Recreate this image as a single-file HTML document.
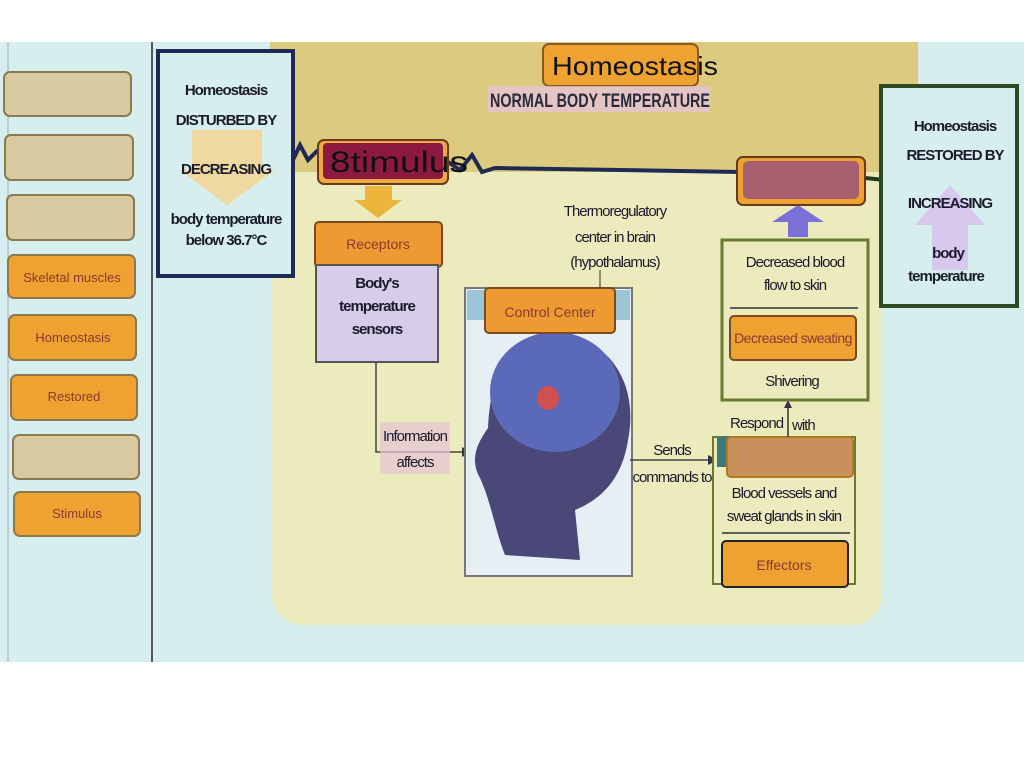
<!DOCTYPE html>
<html><head><meta charset="utf-8"><style>
body{margin:0;background:#fff}
svg text{font-family:"Liberation Sans",sans-serif}
</style></head><body>
<svg width="1024" height="768" viewBox="0 0 1024 768" xmlns="http://www.w3.org/2000/svg">
<rect x="0" y="0" width="1024" height="768" fill="#fff"/>
<rect x="0" y="42" width="1024" height="620" fill="#d6eeee"/>
<line x1="152" y1="42" x2="152" y2="662" stroke="#556" stroke-width="2"/>
<line x1="8" y1="42" x2="8" y2="662" stroke="#aab" stroke-width="1"/>
<rect x="272" y="140" width="610" height="485" rx="30" fill="#ecebbd"/>
<rect x="270" y="42" width="648" height="130" fill="#dccb7e"/>
<g stroke="#8a7a50" stroke-width="2">
<rect x="4" y="72" width="127" height="44" rx="6" fill="#d8c9a0"/>
<rect x="5" y="135" width="128" height="45" rx="6" fill="#d8c9a0"/>
<rect x="7" y="195" width="127" height="45" rx="6" fill="#d8c9a0"/>
<rect x="8" y="255" width="127" height="43" rx="6" fill="#eea232"/>
<rect x="9" y="315" width="127" height="45" rx="6" fill="#eea232"/>
<rect x="11" y="375" width="126" height="45" rx="6" fill="#eea232"/>
<rect x="13" y="435" width="126" height="44" rx="6" fill="#d8c9a0"/>
<rect x="14" y="492" width="126" height="44" rx="6" fill="#eea232"/>
</g>
<g fill="#8a3a30" font-size="13" text-anchor="middle">
<text x="72" y="282">Skeletal muscles</text>
<text x="73" y="342">Homeostasis</text>
<text x="74" y="401">Restored</text>
<text x="77" y="518">Stimulus</text>
</g>
<rect x="158" y="51" width="135" height="225" fill="#d6eeee" stroke="#1e2a55" stroke-width="4"/>
<polygon points="192,130 262,130 262,170 275,170 227,205 180,170 192,170" fill="#f0d9a0"/>
<g font-size="15" text-anchor="middle" fill="#1a1a2a" font-weight="bold" letter-spacing="-1">
<text x="226" y="95">Homeostasis</text>
<text x="226" y="125">DISTURBED BY</text>
<text x="226" y="174">DECREASING</text>
<text x="226" y="224">body temperature</text>
<text x="226" y="245">below 36.7°C</text>
</g>
<polyline points="293,160 300,145 308,160 318,150" fill="none" stroke="#1e2a55" stroke-width="4"/>
<polyline points="445,160 460,170 472,155 482,172 495,168 740,172" fill="none" stroke="#1e2a55" stroke-width="4"/>
<line x1="865" y1="178" x2="885" y2="180" stroke="#1e3a20" stroke-width="4"/>
<rect x="318" y="140" width="130" height="44" rx="6" fill="#f0a840" stroke="#6a3a20" stroke-width="2"/>
<rect x="323" y="143" width="120" height="36" rx="4" fill="#8c1a40"/>
<text x="330" y="172" font-size="30" fill="#111" textLength="138" lengthAdjust="spacingAndGlyphs">8timulus</text>
<rect x="543" y="44" width="155" height="42" rx="6" fill="#eea232" stroke="#8a5a20" stroke-width="2"/>
<text x="552" y="75" font-size="26" fill="#111" textLength="166" lengthAdjust="spacingAndGlyphs">Homeostasis</text>
<rect x="488" y="86" width="222" height="26" fill="#e5c3d6" opacity="0.8"/>
<text x="490" y="107" font-size="19" fill="#2a2a3a" font-weight="bold" textLength="220" lengthAdjust="spacingAndGlyphs">NORMAL BODY TEMPERATURE</text>
<polygon points="365,186 392,186 392,200 402,200 378,218 354,200 365,200" fill="#ebb43a"/>
<rect x="315" y="222" width="127" height="45" rx="4" fill="#ee9a32" stroke="#7a4a20" stroke-width="2"/>
<text x="378" y="249" font-size="14" text-anchor="middle" fill="#8a3a30">Receptors</text>
<rect x="316" y="265" width="122" height="97" fill="#d6cdea" stroke="#555" stroke-width="2"/>
<g font-size="15" text-anchor="middle" fill="#1a1a2a" font-weight="bold" letter-spacing="-1">
<text x="377" y="288">Body's</text>
<text x="377" y="311">temperature</text>
<text x="377" y="334">sensors</text>
</g>
<polyline points="376,362 376,452 462,452" fill="none" stroke="#444" stroke-width="1.5"/>
<polygon points="462,447 470,452 462,457" fill="#334"/>
<rect x="380" y="422" width="70" height="52" fill="#e5c3d6" opacity="0.7"/>
<g font-size="15" text-anchor="middle" fill="#1a1a2a" letter-spacing="-1">
<text x="415" y="441">Information</text>
<text x="415" y="467">affects</text>
</g>
<rect x="465" y="288" width="167" height="288" fill="#e6f0f4" stroke="#777" stroke-width="2"/>
<rect x="467" y="290" width="163" height="30" fill="#9cc6d6"/>
<path d="M545,335 C605,330 640,380 628,440 C622,480 600,500 575,510 L580,560 L505,555 C495,530 492,505 480,478 C470,460 476,445 488,428 C490,380 505,340 545,335 Z" fill="#4a4878"/>
<ellipse cx="555" cy="392" rx="65" ry="60" fill="#5a6ab8"/>
<ellipse cx="548" cy="398" rx="11" ry="12" fill="#d05050"/>
<rect x="485" y="288" width="130" height="45" rx="4" fill="#ee9a32" stroke="#7a4a20" stroke-width="2"/>
<text x="550" y="317" font-size="14" text-anchor="middle" fill="#8a3a30">Control Center</text>
<g font-size="15" text-anchor="middle" fill="#1a1a2a" letter-spacing="-1">
<text x="615" y="216">Thermoregulatory</text>
<text x="615" y="242">center in brain</text>
<text x="615" y="267">(hypothalamus)</text>
</g>
<line x1="600" y1="270" x2="600" y2="288" stroke="#333" stroke-width="1"/>
<line x1="630" y1="460" x2="712" y2="460" stroke="#444" stroke-width="1.5"/>
<polygon points="708,455 718,460 708,465" fill="#334"/>
<g font-size="15" text-anchor="middle" fill="#1a1a2a" letter-spacing="-1">
<text x="672" y="455">Sends</text>
<text x="672" y="482">commands to</text>
</g>
<rect x="713" y="437" width="142" height="147" fill="#ecebbd" stroke="#6a7a30" stroke-width="2"/>
<rect x="717" y="437" width="12" height="30" fill="#3a7a80"/>
<rect x="727" y="437" width="126" height="40" rx="4" fill="#c8905a" stroke="#b07a20" stroke-width="2"/>
<g font-size="15" text-anchor="middle" fill="#1a1a2a" letter-spacing="-1">
<text x="784" y="498">Blood vessels and</text>
<text x="784" y="521">sweat glands in skin</text>
</g>
<line x1="722" y1="533" x2="850" y2="533" stroke="#333" stroke-width="1.5"/>
<rect x="722" y="541" width="126" height="46" rx="4" fill="#eea232" stroke="#222" stroke-width="2"/>
<text x="784" y="570" font-size="14" text-anchor="middle" fill="#8a3a30">Effectors</text>
<text x="730" y="428" font-size="15" fill="#1a1a2a" letter-spacing="-1">Respond</text>
<text x="792" y="430" font-size="15" fill="#1a1a2a" letter-spacing="-1">with</text>
<line x1="788" y1="437" x2="788" y2="404" stroke="#333" stroke-width="1.5"/>
<polygon points="784,408 788,400 792,408" fill="#334"/>
<rect x="722" y="240" width="146" height="160" fill="#ecebbd" stroke="#6a7a30" stroke-width="3"/>
<g font-size="15" text-anchor="middle" fill="#1a1a2a" letter-spacing="-1">
<text x="795" y="267">Decreased blood</text>
<text x="795" y="290">flow to skin</text>
<text x="792" y="386">Shivering</text>
</g>
<line x1="730" y1="308" x2="858" y2="308" stroke="#333" stroke-width="1.5"/>
<rect x="730" y="316" width="126" height="44" rx="4" fill="#eea232" stroke="#7a4a20" stroke-width="2"/>
<text x="793" y="343" font-size="14" text-anchor="middle" fill="#8a3a30" letter-spacing="-0.5">Decreased sweating</text>
<polygon points="788,237 808,237 808,222 824,222 798,205 772,222 788,222" fill="#7a70d8"/>
<rect x="737" y="157" width="128" height="48" rx="6" fill="#eea232" stroke="#6a3a20" stroke-width="2"/>
<rect x="743" y="161" width="116" height="38" rx="5" fill="#a86070"/>
<rect x="881" y="86" width="136" height="220" fill="#d6eeee" stroke="#2e4a22" stroke-width="4"/>
<polygon points="932,270 968,270 968,225 985,225 950,185 915,225 932,225" fill="#d8c8ee"/>
<g font-size="15" text-anchor="middle" fill="#1a1a2a" font-weight="bold" letter-spacing="-1">
<text x="955" y="131">Homeostasis</text>
<text x="955" y="160">RESTORED BY</text>
<text x="950" y="208">INCREASING</text>
<text x="948" y="258">body</text>
<text x="946" y="281">temperature</text>
</g>
</svg>
</body></html>
